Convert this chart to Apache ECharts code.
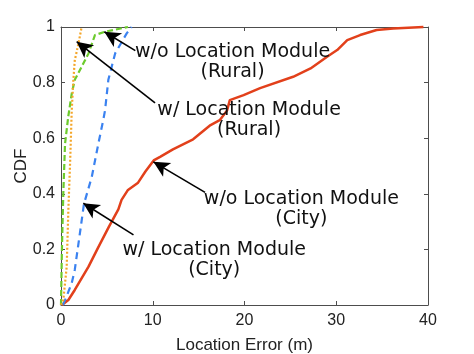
<!DOCTYPE html>
<html>
<head>
<meta charset="utf-8">
<script src="https://cdn.jsdelivr.net/npm/echarts@6/dist/echarts.min.js"></script>
<style>
  html, body {margin: 0; padding: 0; background: #fff;}
  #chart {width: 474px; height: 354px;}
</style>
</head>
<body>
<div id="chart"></div>
<script>
// CDF curves (x = location error in m, y = CDF)
var cityWoX = [0.1, 0.8, 1.5, 3.0, 4.1, 5.2, 6.25, 6.6, 7.3, 8.4, 9.2, 10.1, 10.8, 12.2, 14.4, 16.2, 17.3, 18.1, 18.4, 19.9, 21.7, 25.3, 27.2, 29.0, 30.1, 31.2, 32.6, 34.4, 36.2, 39.5];
var cityWoY = [0, 0.018, 0.054, 0.138, 0.21, 0.28, 0.344, 0.378, 0.414, 0.44, 0.48, 0.52, 0.533, 0.56, 0.596, 0.645, 0.665, 0.70, 0.737, 0.755, 0.78, 0.821, 0.851, 0.893, 0.917, 0.953, 0.971, 0.989, 0.995, 1.0];

var cityWX = [0.2, 0.6, 1.17, 1.5, 2.07, 2.5, 3.35, 4.07, 4.6, 4.8, 5.16, 5.9, 7.16, 7.7];
var cityWY = [0, 0.03, 0.079, 0.126, 0.26, 0.363, 0.46, 0.58, 0.665, 0.70, 0.81, 0.905, 0.977, 1.0];

var ruralWoX = [0, 0.1, 0.25, 0.44, 0.8, 1.17, 1.5, 2.25, 3.0, 3.7, 4.8, 7.3];
var ruralWoY = [0, 0.2, 0.4, 0.58, 0.68, 0.76, 0.81, 0.857, 0.905, 0.971, 0.983, 1.0];

var ruralWX = [0, 0.25, 0.62, 0.8, 1.0, 1.17, 1.35, 1.5, 1.9, 2.25];
var ruralWY = [0, 0.018, 0.137, 0.34, 0.52, 0.70, 0.81, 0.88, 0.94, 1.0];

// annotations: [text, textX, textY, arrowFromX, arrowFromY, arrowToX, arrowToY]
var notes = [
  ['w/o Location Module\n(Rural)', 18.7, 0.874, 8.1, 0.915, 4.72, 0.983],
  ['w/ Location Module\n(Rural)', 20.5, 0.665, 10.25, 0.727, 1.71, 0.947],
  ['w/o Location Module\n(City)', 26.2, 0.345, 15.7, 0.405, 10.07, 0.515],
  ['w/ Location Module\n(City)', 16.7, 0.162, 7.9, 0.252, 2.43, 0.366]
];

function pairs(xs, ys) {
  var out = [];
  for (var i = 0; i < xs.length; i++) out.push([xs[i], ys[i]]);
  return out;
}

var axisColor = '#4d4d4d';
var tickFont = {color: '#222', fontSize: 16, fontFamily: 'Liberation Sans'};

function xAxisDef(pos, show) {
  return {
    type: 'value', position: pos, min: 0, max: 40, interval: 10,
    axisLine: {show: true, onZero: false, lineStyle: {color: axisColor, width: 1}},
    axisTick: {show: true, inside: true, length: 4, lineStyle: {color: axisColor}},
    axisLabel: show ? Object.assign({margin: 8}, tickFont) : {show: false},
    splitLine: {show: false},
    name: show ? 'Location Error (m)' : '',
    nameLocation: 'middle', nameGap: 32, nameMoveOverlap: false,
    nameTextStyle: {color: '#222', fontSize: 17, fontFamily: 'Liberation Sans'}
  };
}

function yAxisDef(pos, show) {
  return {
    type: 'value', position: pos, min: 0, max: 1, interval: 0.2,
    axisLine: {show: true, onZero: false, lineStyle: {color: axisColor, width: 1}},
    axisTick: {show: true, inside: true, length: 4, lineStyle: {color: axisColor}},
    axisLabel: show ? Object.assign({margin: 6, formatter: function (v) { return String(Math.round(v * 10) / 10); }}, tickFont) : {show: false},
    splitLine: {show: false},
    name: show ? 'CDF' : '',
    nameLocation: 'middle', nameGap: 31, nameMoveOverlap: false,
    nameTextStyle: {color: '#222', fontSize: 17, fontFamily: 'Liberation Sans'}
  };
}

var arrows = notes.map(function (n) {
  return [{coord: [n[3], n[4]]}, {coord: [n[5], n[6]]}];
});

var option = {
  animation: false,
  grid: {left: 61, right: 46, top: 27, bottom: 49, outerBoundsMode: 'none', containLabel: false},
  xAxis: [xAxisDef('bottom', true), xAxisDef('top', false)],
  yAxis: [yAxisDef('left', true), yAxisDef('right', false)],
  series: [
    {type: 'line', data: pairs(cityWoX, cityWoY), showSymbol: false, clip: false,
      lineStyle: {color: '#e2401b', width: 2.5}},
    {type: 'line', data: pairs(cityWX, cityWY), showSymbol: false, clip: false,
      lineStyle: {color: '#3b82f0', width: 2.2, type: [7, 5]}},
    {type: 'line', data: pairs(ruralWoX, ruralWoY), showSymbol: false, clip: false,
      lineStyle: {color: '#6ccb2c', width: 2.2, type: [6, 3]}},
    {type: 'line', data: pairs(ruralWX, ruralWY), showSymbol: false, clip: false,
      lineStyle: {color: '#f4a62a', width: 2.2, type: [2, 2]}},
    {type: 'line', data: [], silent: true,
      markLine: {
        silent: true, animation: false,
        symbol: ['none', 'arrow'], symbolSize: [12, 16],
        label: {show: false},
        lineStyle: {color: '#000', width: 1.6, type: 'solid'},
        data: arrows
      }}
  ]
};

var chart = echarts.init(document.getElementById('chart'), null, {renderer: 'canvas'});
chart.setOption(option);

var texts = notes.map(function (n) {
  var p = chart.convertToPixel({gridIndex: 0}, [n[1], n[2]]);
  return {
    type: 'text', x: p[0], y: p[1], z: 100,
    style: {
      text: n[0], fill: '#111', fontSize: 19, fontFamily: 'DejaVu Sans',
      align: 'center', verticalAlign: 'middle', lineHeight: 20
    }
  };
});
chart.setOption({graphic: texts});
</script>
</body>
</html>
